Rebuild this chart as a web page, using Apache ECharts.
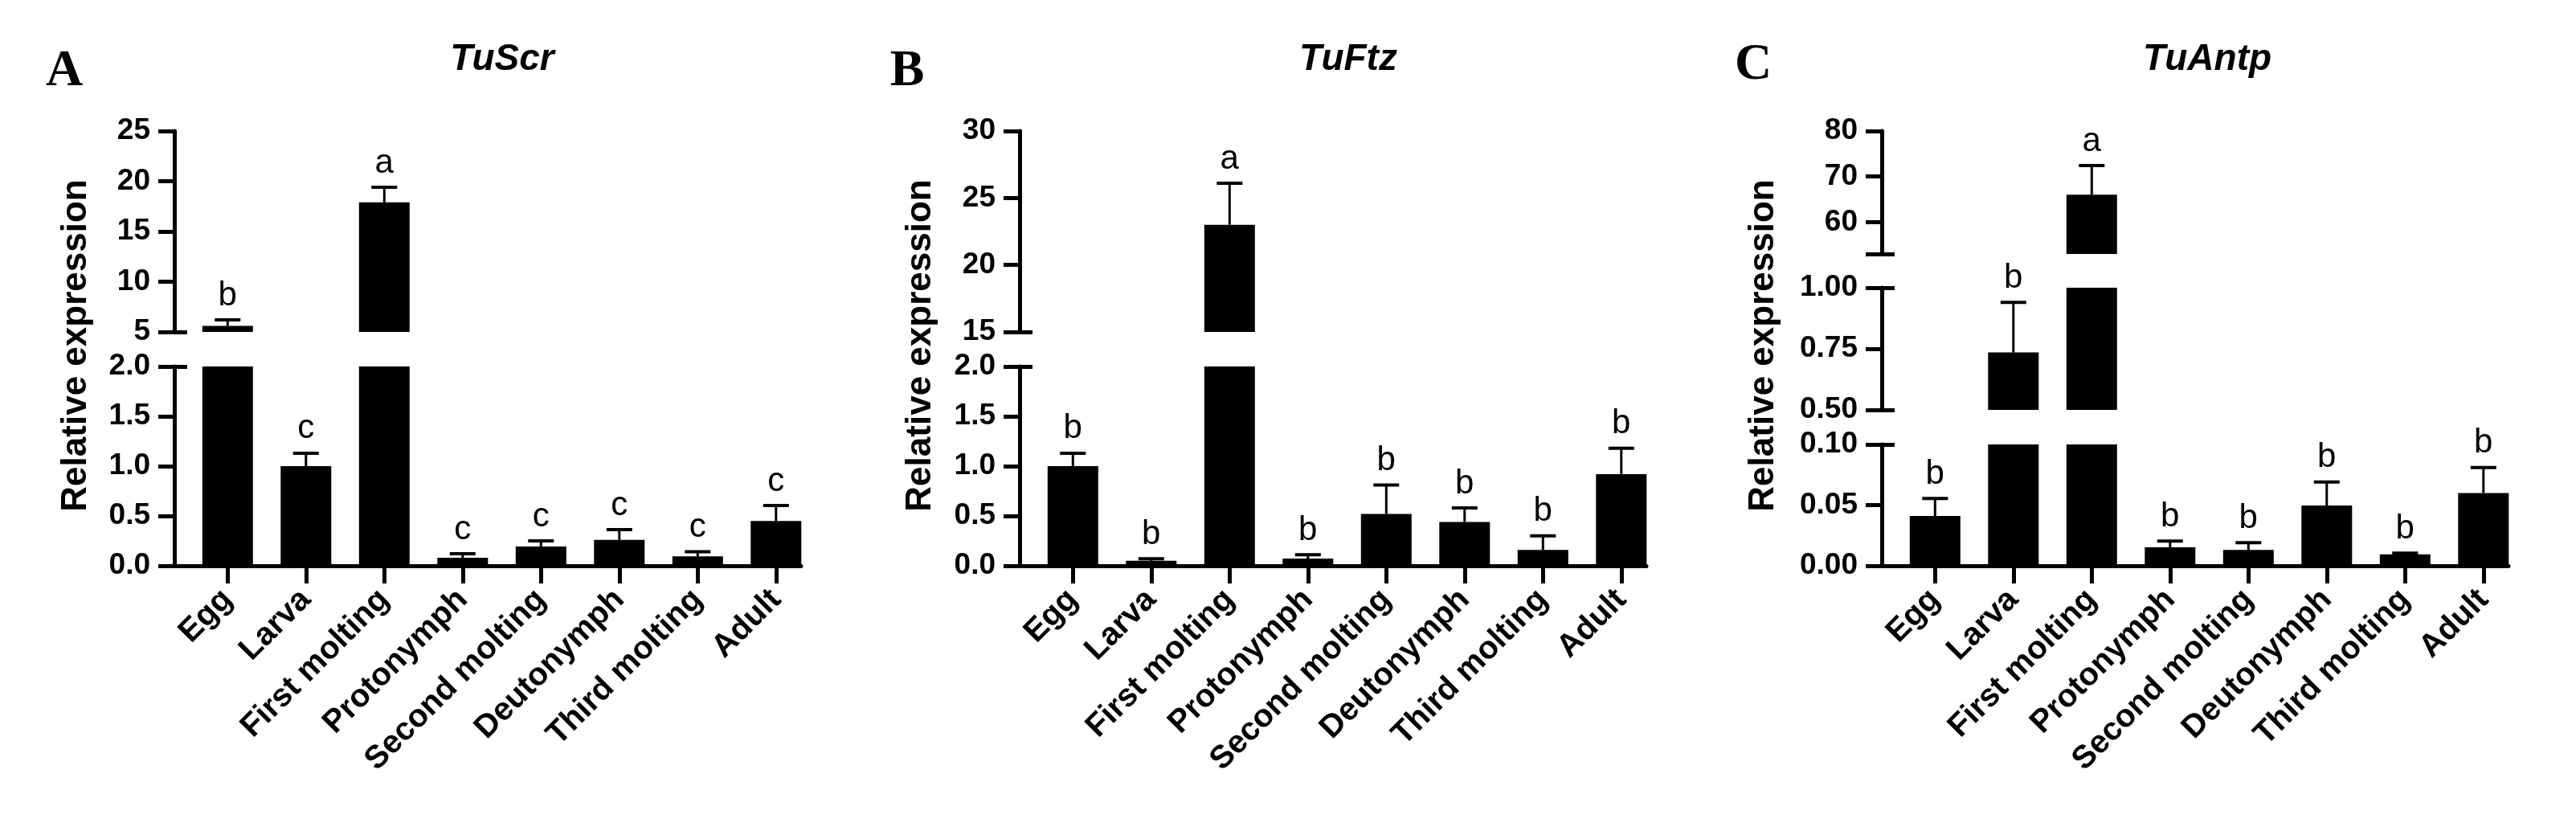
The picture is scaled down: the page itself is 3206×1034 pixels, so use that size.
<!DOCTYPE html>
<html><head><meta charset="utf-8">
<script src="https://cdn.jsdelivr.net/npm/echarts@6/dist/echarts.min.js"></script>
<style>html,body{margin:0;padding:0;background:#fff}#c{width:3206px;height:1034px}</style>
</head><body><div id="c"></div>
<script>
// ---------------- data ----------------
const categories = ['Egg', 'Larva', 'First molting', 'Protonymph', 'Second molting', 'Deutonymph', 'Third molting', 'Adult'];

const scrMean = [5.6, 1.0, 17.9, 0.081, 0.194, 0.26, 0.094, 0.449];
const scrErr = [0.6, 0.13, 1.5, 0.04, 0.056, 0.103, 0.048, 0.156];
const scrLetters = ['b', 'c', 'a', 'c', 'c', 'c', 'c', 'c'];

const ftzMean = [1.0, 0.05, 23.0, 0.073, 0.52, 0.44, 0.16, 0.92];
const ftzErr = [0.13, 0.02, 3.1, 0.037, 0.29, 0.14, 0.14, 0.26];
const ftzLetters = ['b', 'b', 'a', 'b', 'b', 'b', 'b', 'b'];

const antpMean = [0.041, 0.735, 66.0, 0.0152, 0.013, 0.0497, 0.0094, 0.060];
const antpErr = [0.0145, 0.205, 6.4, 0.0052, 0.006, 0.0193, 0.001, 0.021];
const antpLetters = ['b', 'b', 'a', 'b', 'b', 'b', 'b', 'b'];

const scrLowerTicks = [0, 0.5, 1.0, 1.5, 2.0];
const scrUpperTicks = [5, 10, 15, 20, 25];
const ftzLowerTicks = [0, 0.5, 1.0, 1.5, 2.0];
const ftzUpperTicks = [15, 20, 25, 30];
const antpLowerTicks = [0, 0.05, 0.10];
const antpMiddleTicks = [0.50, 0.75, 1.00];
const antpUpperTicks = [60, 70, 80];
const antpUpperMin = 53;

const titles = ['TuScr', 'TuFtz', 'TuAntp'];
const panelLetters = ['A', 'B', 'C'];
const yName = 'Relative expression';

// ---------------- layout ----------------
const FONT = '"Liberation Sans", Arial, sans-serif';
const panels = [
  { left: 217, mean: scrMean, err: scrErr, letters: scrLetters, title: titles[0], tag: panelLetters[0],
    tagPos: [80, 89], titleX: 625, yNameX: 95,
    segs: [
      { min: 0, max: 2, ticks: scrLowerTicks, caps: [2], dec: 1, top: 456, h: 248, bottom: true },
      { min: 5, max: 25, ticks: scrUpperTicks, caps: [5], dec: 0, top: 163, h: 250 }
    ] },
  { left: 1269, mean: ftzMean, err: ftzErr, letters: ftzLetters, title: titles[1], tag: panelLetters[1],
    tagPos: [1129, 89], titleX: 1678, yNameX: 1146,
    segs: [
      { min: 0, max: 2, ticks: ftzLowerTicks, caps: [2], dec: 1, top: 456, h: 248, bottom: true },
      { min: 15, max: 30, ticks: ftzUpperTicks, caps: [15], dec: 0, top: 163, h: 250 }
    ] },
  { left: 2342, mean: antpMean, err: antpErr, letters: antpLetters, title: titles[2], tag: panelLetters[2],
    tagPos: [2182, 81], titleX: 2747, yNameX: 2195,
    segs: [
      { min: 0, max: 0.1, ticks: antpLowerTicks, caps: [0.1], dec: 2, top: 553, h: 151, bottom: true },
      { min: 0.5, max: 1.0, ticks: antpMiddleTicks, caps: [0.5, 1.0], dec: 2, top: 358, h: 152 },
      { min: antpUpperMin, max: 80, ticks: antpUpperTicks, caps: [antpUpperMin], extraTicks: [antpUpperMin], dec: 0, top: 163, h: 153 }
    ] }
];

const XMIN = -0.68, XMAX = 7.32, PW = 780;
const catIdx = categories.map((c, i) => i);

const grid = [], xAxis = [], yAxis = [], series = [], graphic = [];

panels.forEach(p => {
  p.segs.forEach(s => {
    const gi = grid.length;
    grid.push({ left: p.left, top: s.top, width: PW, height: s.h, containLabel: false });
    xAxis.push({
      type: 'value', gridIndex: gi, min: XMIN, max: XMAX, show: !!s.bottom,
      axisLine: { show: true, onZero: false, lineStyle: { color: '#000', width: 5 } },
      axisTick: { show: true, customValues: catIdx, length: 22, lineStyle: { color: '#000', width: 5 } },
      axisLabel: { show: true, customValues: catIdx, rotate: 45, margin: 36,
        formatter: v => categories[Math.round(v)],
        fontFamily: FONT, fontSize: 40, fontWeight: 'bold', color: '#000' },
      splitLine: { show: false }
    });
    const yi = yAxis.length;
    yAxis.push({
      type: 'value', gridIndex: gi, min: s.min, max: s.max, position: 'left',
      axisLine: { show: true, onZero: false, lineStyle: { color: '#000', width: 5 } },
      axisTick: { show: true, length: 20, customValues: (s.extraTicks || []).concat(s.ticks), lineStyle: { color: '#000', width: 5 } },
      axisLabel: { show: true, customValues: s.ticks, margin: 30, showMinLabel: true, showMaxLabel: true,
        formatter: v => Number(v).toFixed(s.dec),
        fontFamily: FONT, fontSize: 37, fontWeight: 'bold', color: '#000' },
      splitLine: { show: false }
    });
    // break caps (inside ticks at segment ends)
    yAxis.push({
      type: 'value', gridIndex: gi, min: s.min, max: s.max, position: 'left',
      axisLine: { show: false, onZero: false },
      axisTick: { show: true, inside: true, length: 16, customValues: s.caps, lineStyle: { color: '#000', width: 5 } },
      axisLabel: { show: false },
      splitLine: { show: false }
    });
    series.push({
      type: 'bar', xAxisIndex: gi, yAxisIndex: yi, barWidth: 63, clip: true, silent: true,
      itemStyle: { color: '#000' },
      data: p.mean.map((v, i) => [i, v]).filter(d => d[1] > s.min)
    });
    const eData = p.mean.map((v, i) => [i, v, v + p.err[i]]).filter(d => d[1] >= s.min && d[1] <= s.max);
    series.push({
      type: 'custom', xAxisIndex: gi, yAxisIndex: yi, silent: true, z: 5,
      data: eData,
      encode: { x: 0, y: [1, 2] },
      renderItem: (params, api) => {
        const i = api.value(0);
        const a = api.coord([i, api.value(1)]);
        const b = api.coord([i, api.value(2)]);
        return { type: 'group', children: [
          { type: 'line', shape: { x1: a[0], y1: a[1], x2: b[0], y2: b[1] }, style: { stroke: '#000', lineWidth: 3 } },
          { type: 'line', shape: { x1: b[0] - 16, y1: b[1], x2: b[0] + 16, y2: b[1] }, style: { stroke: '#000', lineWidth: 4 } },
          { type: 'text', style: { text: p.letters[i], x: b[0], y: b[1] - 9, align: 'center', verticalAlign: 'bottom',
              font: '42px ' + FONT, fill: '#000' } }
        ] };
      }
    });
  });
  graphic.push({ type: 'text', x: p.tagPos[0], y: p.tagPos[1], style: { text: p.tag, align: 'center', verticalAlign: 'middle', font: 'bold 64px "Liberation Serif", "Times New Roman", serif', fill: '#000' } });
  graphic.push({ type: 'text', x: p.titleX, y: 74, style: { text: p.title, align: 'center', verticalAlign: 'middle', font: 'italic bold 46px ' + FONT, fill: '#000' } });
  graphic.push({ type: 'text', x: p.yNameX, y: 430, rotation: Math.PI / 2, style: { text: yName, align: 'center', verticalAlign: 'middle', font: 'bold 44px ' + FONT, fill: '#000' } });
});

const chart = echarts.init(document.getElementById('c'), null, { renderer: 'canvas' });
chart.setOption({ backgroundColor: '#fff', animation: false, grid, xAxis, yAxis, series, graphic });
</script></body></html>
